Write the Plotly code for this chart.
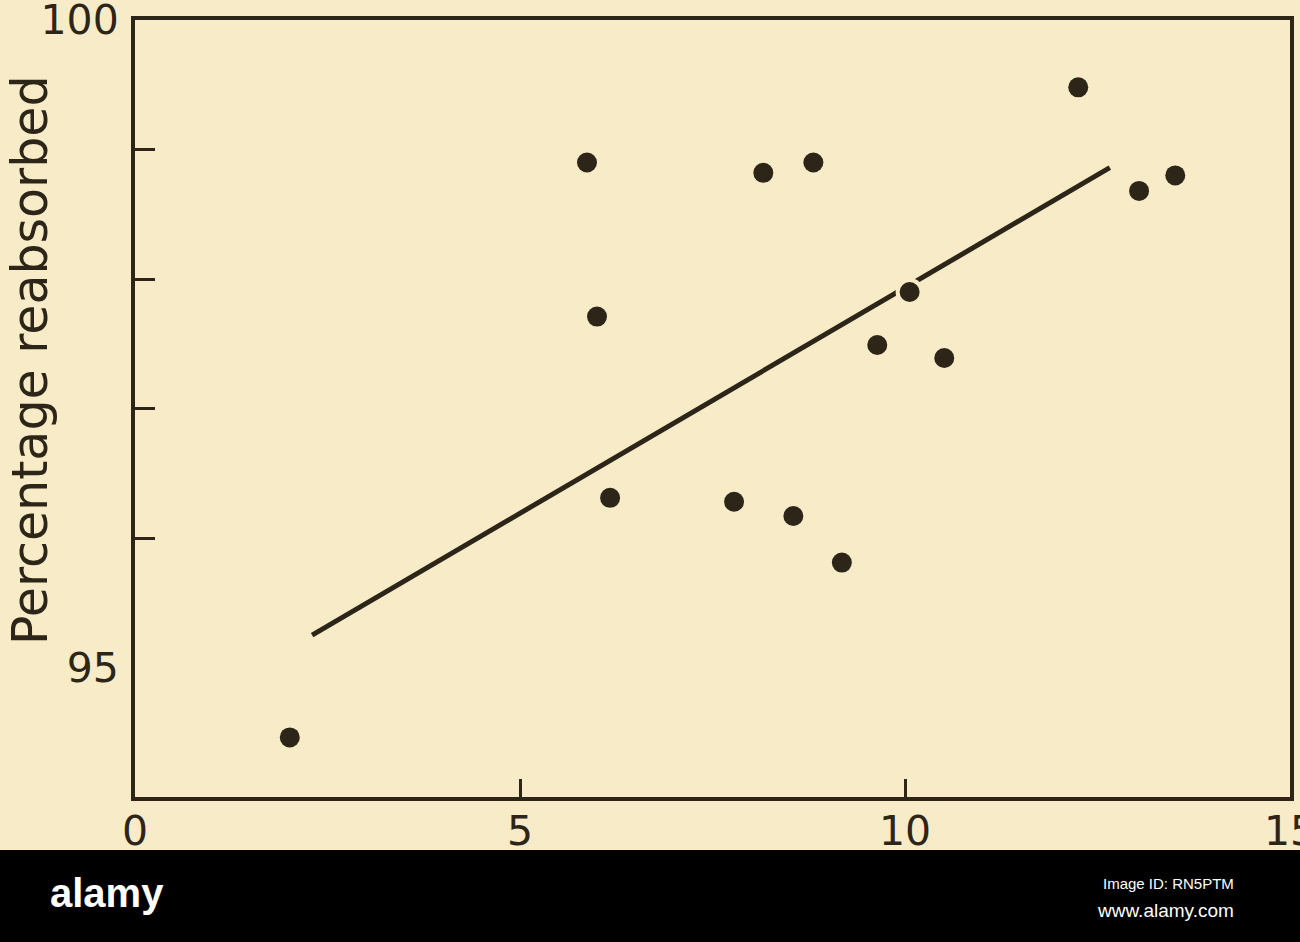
import plotly.graph_objects as go

excretion = [2.01, 5.87, 6.00, 6.17, 7.78, 8.16, 8.55, 8.81, 9.18, 9.64, 10.06, 10.51, 12.25, 13.04, 13.51]
reabsorbed = [94.46, 98.90, 97.71, 96.31, 96.28, 98.82, 96.17, 98.90, 95.81, 97.49, 97.90, 97.39, 99.48, 98.68, 98.80]

# fitted line end points
fit_x = [2.30, 12.66]
fit_y = [95.25, 98.86]

x_ticks = [0, 5, 10, 15]
x_labels = ["0", "5", "10", "15"]
y_ticks = [95, 100]
y_labels = ["95", "100"]
y_minor = [96, 97, 98, 99]

BG = "#f8ecc8"
INK = "#2e2519"
FONT = "DejaVu Sans"

W, H = 1300, 942
L, R, T, B = 135, 10, 20, 145
pw, ph = W - L - R, H - T - B


def px_x(p):
    return (p - L) / pw


def px_y(p):
    return (H - B - p) / ph


fig = go.Figure()
fig.add_trace(go.Scatter(x=fit_x, y=fit_y, mode="lines",
                         line=dict(color=INK, width=5), hoverinfo="skip"))
# halo so the line breaks around the points, as in the print
fig.add_trace(go.Scatter(x=excretion, y=reabsorbed, mode="markers",
                         marker=dict(color=BG, size=28), hoverinfo="skip"))
fig.add_trace(go.Scatter(x=excretion, y=reabsorbed, mode="markers",
                         marker=dict(color=INK, size=20)))

fig.update_xaxes(range=[0, 15], tickvals=x_ticks, ticktext=x_labels,
                 ticks="inside", ticklen=18, tickwidth=3, tickcolor=INK,
                 showline=True, linewidth=4, linecolor=INK, mirror=True,
                 showgrid=False, zeroline=False, automargin=False,
                 ticklabelstandoff=-5, ticklabeloverflow="allow",
                 tickfont=dict(family=FONT, size=41, color=INK))
fig.update_yaxes(range=[94, 100], tickvals=y_ticks, ticktext=y_labels,
                 ticks="", minor=dict(tickvals=y_minor, ticks="inside", ticklen=20,
                                      tickwidth=3, tickcolor=INK),
                 showline=True, linewidth=4, linecolor=INK, mirror=True,
                 showgrid=False, zeroline=False, automargin=False,
                 ticklabelstandoff=4, ticklabeloverflow="allow",
                 tickfont=dict(family=FONT, size=41, color=INK))

fig.add_annotation(text="Percentage reabsorbed", textangle=-90, showarrow=False,
                   xref="paper", yref="paper", x=px_x(30), y=px_y(360),
                   xanchor="center", yanchor="middle",
                   font=dict(family=FONT, size=49, color=INK))

# stock-photo banner along the bottom
fig.add_shape(type="rect", xref="paper", yref="paper", layer="above",
              x0=px_x(0), x1=px_x(W), y0=px_y(850), y1=px_y(H),
              fillcolor="black", line_width=0)
fig.add_annotation(text="<b>alamy</b>", showarrow=False, xref="paper", yref="paper",
                   x=px_x(48), y=px_y(893), xanchor="left", yanchor="middle",
                   font=dict(family="Liberation Sans", size=40, color="white"))
fig.add_annotation(text="Image ID: RN5PTM", showarrow=False, xref="paper", yref="paper",
                   x=px_x(1236), y=px_y(883), xanchor="right", yanchor="middle",
                   font=dict(family="Liberation Sans", size=15, color="white"))
fig.add_annotation(text="www.alamy.com", showarrow=False, xref="paper", yref="paper",
                   x=px_x(1236), y=px_y(910), xanchor="right", yanchor="middle",
                   font=dict(family="Liberation Sans", size=19, color="white"))

fig.update_layout(width=W, height=H, margin=dict(l=L, r=R, t=T, b=B),
                  paper_bgcolor=BG, plot_bgcolor=BG, showlegend=False)

fig.write_html("out.html", config={"displayModeBar": False},
               post_script="document.body.style.margin = '0';")
